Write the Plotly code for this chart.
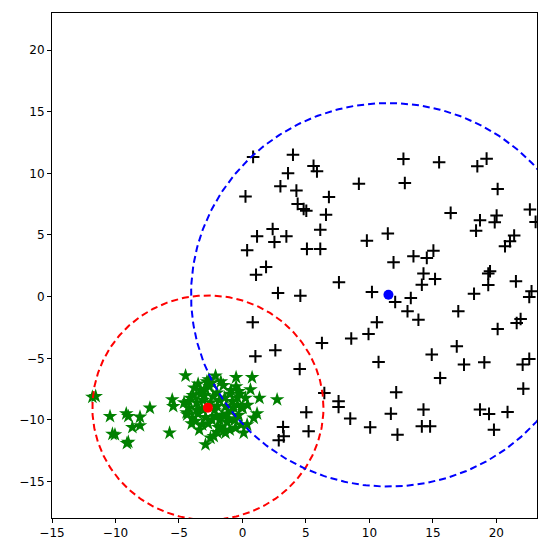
import numpy as np
import plotly.graph_objects as go

# Black "+" points (cluster B)
plus_x = [0.84, 3.98, 5.6, 5.87, 3.59, 9.17, 2.99, 4.25, 0.24, 6.81, 4.35, 4.82, 5.03, 6.58,
          2.38, 6.13, 1.15, 3.46, 2.52, 9.8, 0.37, 5.08, 6.13, 1.86, 1.07, 7.6, 2.8, 4.56,
          10.2, 0.81, 10.59, 9.93, 8.57,
          12.68, 15.49, 19.23, 18.5, 12.79, 20.1, 16.4, 22.64, 23.09, 18.71, 20.02, 19.87,
          18.4, 11.45, 21.4, 21.07, 20.68, 15.04, 14.52, 13.47, 11.9, 14.26, 15.17, 14.13,
          19.5, 19.36, 19.36, 21.54, 22.77, 22.59, 18.24, 12.03, 13.26, 13.0, 13.86, 17.0,
          20.1, 21.6, 21.91,
          16.88, 14.91, 10.72, 17.45, 19.05, 22.59, 22.07, 15.57, 22.12, 12.11, 11.69, 14.26,
          18.71, 19.42, 20.88, 19.81, 14.13, 14.78, 12.21, 10.06,
          6.26, 2.59, 1.02, 4.51, 6.45, 7.57, 7.57, 8.49, 5.03, 5.21, 3.2, 3.25, 2.86]
plus_y = [11.33, 11.5, 10.6, 10.16, 10.0, 9.16, 8.95, 8.6, 8.13, 8.08, 7.52, 7.11, 6.97, 6.65,
          5.49, 5.43, 4.89, 4.89, 4.43, 4.54, 3.76, 3.87, 3.87, 2.41, 1.78, 1.16, 0.3, 0.08,
          0.38, -2.08, -2.08, -3.03, -3.4,
          11.17, 10.9, 11.19, 10.57, 9.22, 8.73, 6.79, 7.06, 6.06, 6.19, 6.57, 6.03,
          5.35, 5.11, 4.95, 4.49, 4.08, 3.73, 3.14, 3.27, 2.78, 1.87, 1.43, 0.97,
          2.06, 1.87, 0.95, 1.24, 0.43, -0.03, 0.24, -0.43, -0.11, -1.19, -1.87, -1.19,
          -2.62, -2.14, -1.81,
          -4.03, -4.7, -5.3, -5.51, -5.33, -5.05, -5.51, -6.6, -7.46, -7.76, -9.49, -9.16,
          -9.16, -9.51, -9.35, -10.79, -10.52, -10.52, -11.19, -10.6,
          -3.76, -4.35, -4.84, -5.87, -7.81, -8.49, -8.95, -9.89, -9.38, -10.92, -10.57, -11.33, -11.65]

# Green star points (cluster A)
star_x = [-11.82, -11.56, -10.43, -9.15, -8.99, -8.07, -7.29, -8.67, -8.07, -10.24, -10.04,
          -8.99, -9.1, -5.74, -5.53, -5.45, -4.48, -4.35, -4.22,
          -2.12, -0.5, 0.76, -3.49, -2.65, 0.63, 1.34, 2.73, -0.29, 0.24, -4.1, -4.22, -3.96,
          -0.02, 0.89, 0.37, -0.55, 0.1, -1.34, -2.26, -2.52, -2.91, -3.17, -1.73, 1.15,
          -3.6, -3.5, -3.3, -3.0, -2.9, -2.6, -2.5, -2.4, -2.2, -2.0, -1.9, -1.8, -1.6,
          -1.5, -1.3, -1.2, -1.0, -0.9, -0.8, -0.6, -0.5, -0.4, -0.3, -0.2, 0.0, -1.7,
          -2.8, -3.8, -4.4, -3.4, -2.0, -1.0, 0.4, -4.6,
          -3.9, -3.7, -3.2, -3.1, -2.7, -2.3, -2.1, -1.4, -1.1, -0.7, -0.1, -3.3, -2.0,
          -1.5, -0.9, -3.6, -2.4, -1.2, -0.4, -4.0, -2.9, -1.8]
star_y = [-8.14, -8.08, -9.71, -9.49, -9.71, -9.76, -9.03, -10.6, -10.46, -11.14, -11.19,
          -11.79, -11.9, -11.05, -8.35, -8.9, -6.41, -9.57, -8.49,
          -6.43, -6.55, -6.55, -7.08, -6.73, -7.54, -8.22, -8.35, -7.68, -8.22, -8.22, -9.03, -9.84,
          -9.03, -9.84, -10.38, -10.65, -11.05, -11.05, -11.33, -11.46, -12.0, -10.38, -10.65, -9.49,
          -8.6, -9.5, -7.6, -8.0, -9.8, -7.3, -8.6, -10.0, -9.2, -7.8, -10.6, -8.4, -9.6,
          -7.2, -8.9, -10.2, -7.9, -9.3, -8.5, -10.0, -7.3, -8.8, -9.6, -7.9, -9.0, -6.9,
          -6.9, -7.4, -9.4, -10.8, -11.0, -10.8, -8.8, -8.6,
          -8.0, -10.1, -9.1, -8.4, -10.3, -8.1, -9.7, -8.2, -9.9, -9.0, -10.4, -7.9, -8.9,
          -10.9, -7.6, -9.2, -7.0, -9.5, -8.2, -10.3, -7.5, -10.0]

# Cluster centres and radii
center_x = [-2.72, 11.5]
center_y = [-9.0, 0.15]
radius = [9.1, 15.55]
circle_colors = ["#ff0000", "#0000ff"]

x_ticks = [-15, -10, -5, 0, 5, 10, 15, 20]
y_ticks = [-15, -10, -5, 0, 5, 10, 15, 20]

fig = go.Figure()

fig.add_trace(go.Scatter(
    x=plus_x, y=plus_y, mode="markers",
    marker=dict(symbol="cross-thin", size=9, line=dict(color="black", width=2)),
    showlegend=False))

fig.add_trace(go.Scatter(
    x=star_x, y=star_y, mode="markers",
    marker=dict(symbol="star", size=11, color="#008000", line=dict(width=0)),
    showlegend=False))

theta = np.linspace(0, 2 * np.pi, 400)
for cx, cy, r, c in zip(center_x, center_y, radius, circle_colors):
    fig.add_trace(go.Scatter(
        x=cx + r * np.cos(theta), y=cy + r * np.sin(theta), mode="lines",
        line=dict(color=c, width=2, dash="7px,4px"), showlegend=False,
        hoverinfo="skip"))

fig.add_trace(go.Scatter(
    x=center_x, y=center_y, mode="markers",
    marker=dict(symbol="circle", size=10, color=circle_colors),
    showlegend=False))

axis_common = dict(
    showgrid=False, zeroline=False, showline=True, linecolor="black", linewidth=1,
    mirror=True, ticks="outside", ticklen=4, tickwidth=1, tickcolor="black",
    tickfont=dict(family="DejaVu Sans", size=12, color="black"),
)

fig.update_layout(
    width=541, height=542,
    margin=dict(l=44, r=12, t=5, b=32),
    paper_bgcolor="white", plot_bgcolor="white",
    xaxis=dict(range=[-15, 23.2], tickvals=x_ticks, **axis_common),
    yaxis=dict(range=[-17.95, 23.0], tickvals=y_ticks, **axis_common),
)

fig.write_html("out.html")
